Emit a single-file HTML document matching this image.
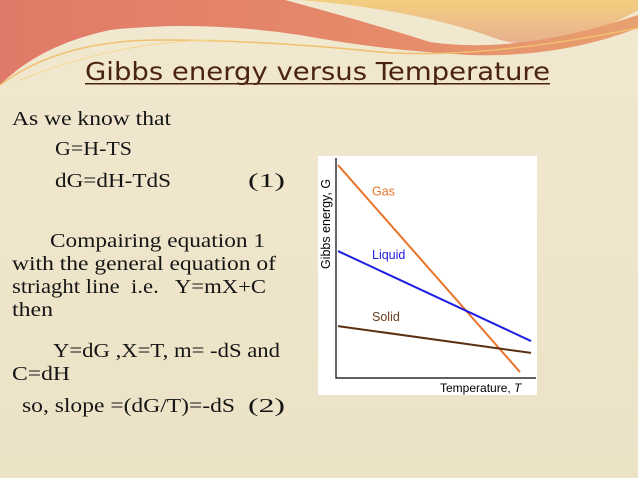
<!DOCTYPE html>
<html><head><meta charset="utf-8"><style>
html,body{margin:0;padding:0;width:638px;height:478px;overflow:hidden;background:#efe5cb}
svg{display:block}
.b{font-family:"Liberation Serif",serif;font-size:20px;fill:#151515}
</style></head><body>
<svg width="638" height="478" viewBox="0 0 638 478">
<defs>
<linearGradient id="bg" x1="0" y1="0" x2="0" y2="1"><stop offset="0" stop-color="#f1e8d0"/><stop offset="1" stop-color="#ece2c6"/></linearGradient>
<linearGradient id="red" x1="0" y1="0" x2="1" y2="0"><stop offset="0" stop-color="#e07a68"/><stop offset="0.6" stop-color="#e58a6a"/><stop offset="1" stop-color="#e8a070"/></linearGradient>
<linearGradient id="yel" x1="0" y1="0" x2="0" y2="1"><stop offset="0" stop-color="#f3cf80"/><stop offset="1" stop-color="#e8b090"/></linearGradient>
</defs>
<rect width="638" height="478" fill="url(#bg)"/>
<g>
<path d="M0,0 H300 Q420,10 500,40 Q560,55 638,10 V0 Z" fill="url(#yel)"/>
<path d="M0,0 H285 Q360,20 430,42 Q520,55 638,15 V28 Q560,58 470,55 Q380,50 300,35 Q200,20 110,30 Q40,45 0,85 Z" fill="url(#red)"/>
<path d="M0,85 Q60,40 160,40 Q260,40 380,52 Q480,60 638,28" stroke="#f0c070" stroke-width="1.5" fill="none"/>
<path d="M20,80 Q120,40 220,40" stroke="#f5d890" stroke-width="1" fill="none"/>
</g>
<text x="85" y="80" textLength="465" lengthAdjust="spacingAndGlyphs" font-family="DejaVu Sans, sans-serif" font-size="25" fill="#4a2410">Gibbs energy versus Temperature</text>
<rect x="85" y="83" width="465" height="1.5" fill="#4a2410"/>
<g>
<text class="b" x="12" y="125" textLength="159" lengthAdjust="spacingAndGlyphs">As we know that</text>
<text class="b" x="55" y="155" textLength="77" lengthAdjust="spacingAndGlyphs">G=H-TS</text>
<text class="b" x="55" y="187" textLength="116" lengthAdjust="spacingAndGlyphs">dG=dH-TdS</text>
<text class="b" x="248" y="187" textLength="37" lengthAdjust="spacingAndGlyphs">(1)</text>
<text class="b" x="50" y="247" textLength="215" lengthAdjust="spacingAndGlyphs">Compairing equation 1</text>
<text class="b" x="12" y="270" textLength="264" lengthAdjust="spacingAndGlyphs">with the general equation of</text>
<text class="b" x="12" y="293" textLength="254" lengthAdjust="spacingAndGlyphs" xml:space="preserve">striaght line  i.e.   Y=mX+C</text>
<text class="b" x="12" y="316" textLength="41" lengthAdjust="spacingAndGlyphs">then</text>
<text class="b" x="53" y="357" textLength="227" lengthAdjust="spacingAndGlyphs">Y=dG ,X=T, m= -dS and</text>
<text class="b" x="12" y="380" textLength="58" lengthAdjust="spacingAndGlyphs">C=dH</text>
<text class="b" x="22" y="412" textLength="213" lengthAdjust="spacingAndGlyphs">so, slope =(dG/T)=-dS</text>
<text class="b" x="248" y="412" textLength="37" lengthAdjust="spacingAndGlyphs">(2)</text>
</g>
<g id="chart">
<rect x="318" y="156" width="219" height="239" fill="#fff"/>
</g>
</svg>
<script>
const seriesNames=["Gas","Liquid","Solid"];
const seriesColors=["#e8742a","#1e1ee0","#5a3010"];
const startT=[0.1,0.1,0.1];
const endT=[9.2,9.75,9.75];
const startG=[9.68,5.77,2.36];
const endG=[0.27,1.68,1.14];
const labelT=[1.8,1.8,1.8];
const labelG=[8.3,5.4,2.6];
const NS="http://www.w3.org/2000/svg";
const chart=document.getElementById('chart');
const X0=336,X1=536,Y0=378,Y1=158;
function xs(v){return X0+(X1-X0)*v/10;}
function ys(v){return Y0-(Y0-Y1)*v/10;}
function mk(tag,attrs){const e=document.createElementNS(NS,tag);for(const k in attrs)e.setAttribute(k,attrs[k]);chart.appendChild(e);return e;}
const ax=mk('path',{d:`M${X0},${Y1} V${Y0} H${X1}`,stroke:'#000','stroke-width':1.2,fill:'none'});


for(let i=0;i<seriesNames.length;i++){
  const l=mk('line',{x1:xs(startT[i]),y1:ys(startG[i]),x2:xs(endT[i]),y2:ys(endG[i]),stroke:seriesColors[i],'stroke-width':2});
  
  
  const t=mk('text',{x:xs(labelT[i]),y:ys(labelG[i]),fill:seriesColors[i]==='#5a3010'?'#6a4020':seriesColors[i],'font-family':'Liberation Sans, sans-serif','font-size':12.5});
  t.textContent=seriesNames[i];
  
  
}
const yt=mk('text',{x:0,y:0,transform:'translate(330,224) rotate(-90)','text-anchor':'middle','font-family':'Liberation Sans, sans-serif','font-size':12.5,fill:'#000'});
yt.textContent='Gibbs  energy,  G';


const xt=mk('text',{x:440,y:392,'font-family':'Liberation Sans, sans-serif','font-size':12,fill:'#000'});
xt.innerHTML='Temperature,  <tspan font-style="italic">T</tspan>';


</script>
</body></html>
